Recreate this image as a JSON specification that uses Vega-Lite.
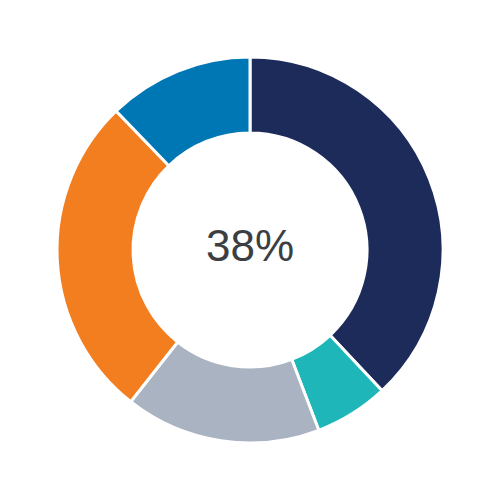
{
  "$schema": "https://vega.github.io/schema/vega-lite/v6.json",
  "width": 500,
  "height": 500,
  "padding": 0,
  "autosize": {"type": "none"},
  "background": "white",
  "view": {"stroke": null},
  "datasets": {
    "slices": [
      {"segment": "A", "order": 1, "value": 38.0},
      {"segment": "B", "order": 2, "value": 6.2},
      {"segment": "C", "order": 3, "value": 16.4},
      {"segment": "D", "order": 4, "value": 27.2},
      {"segment": "E", "order": 5, "value": 12.2}
    ],
    "label": [{"text": "38%"}]
  },
  "layer": [
    {
      "data": {"name": "slices"},
      "mark": {"type": "arc", "outerRadius": 193, "innerRadius": 117, "stroke": "white", "strokeWidth": 3},
      "encoding": {
        "theta": {"field": "value", "type": "quantitative", "stack": true},
        "order": {"field": "order", "type": "quantitative", "sort": "ascending"},
        "color": {
          "field": "segment",
          "type": "nominal",
          "legend": null,
          "scale": {"domain": ["A", "B", "C", "D", "E"], "range": ["#1c2b5a", "#1eb6b8", "#a9b3c1", "#f37e20", "#0077b5"]}
        }
      }
    },
    {
      "data": {"name": "label"},
      "mark": {"type": "text", "fontSize": 44, "font": "Liberation Sans", "color": "#3b3f44", "align": "center", "baseline": "middle", "dy": -2},
      "encoding": {"text": {"field": "text", "type": "nominal"}}
    }
  ]
}
